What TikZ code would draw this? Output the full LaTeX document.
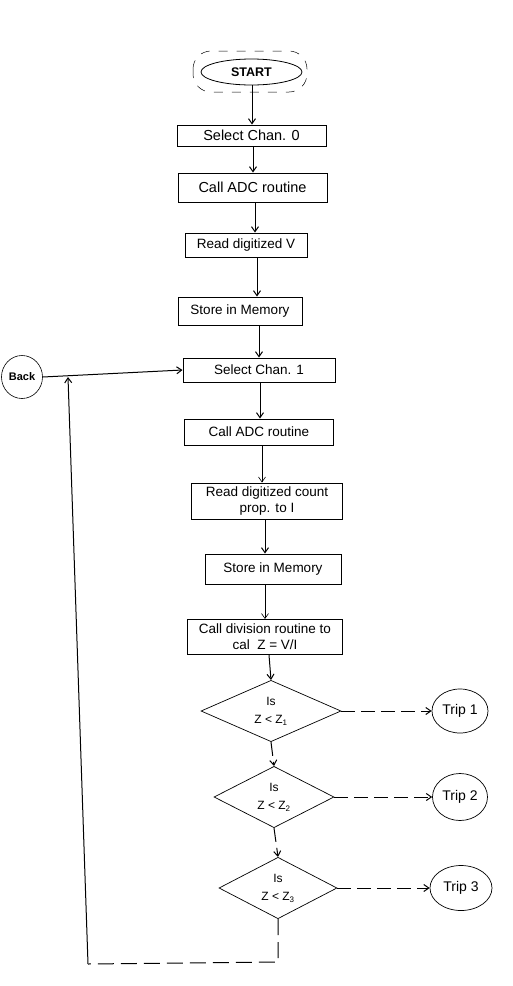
\documentclass[tikz,border=0pt]{standalone}
\usepackage{fontspec}
\setmainfont{Liberation Sans}
\usetikzlibrary{shapes.geometric,arrows.meta}
\begin{document}
\begin{tikzpicture}[x=1pt,y=-1pt,
  box/.style={draw,line width=1pt,inner sep=0pt,align=center,font=\fontsize{13.5}{16}\selectfont},
  dec/.style={draw,diamond,line width=0.7pt,inner sep=0pt,align=center,font=\fontsize{12}{18}\selectfont},
  trip/.style={draw,ellipse,line width=0.7pt,inner sep=0pt,font=\fontsize{14}{16}\selectfont},
  arr/.style={line width=1pt,-{Straight Barb[length=5pt,width=7pt]}},
  darr/.style={arr,dash pattern=on 14pt off 6pt},
  dline/.style={line width=1pt,dash pattern=on 16pt off 7pt}]
\useasboundingbox (0,0) rectangle (512,986);
\fill[white] (0,0) rectangle (512,986);

% START
\draw[line width=0.5pt,dash pattern=on 9pt off 9pt,rounded corners=18pt] (193,51) rectangle (307,92);
\node[draw,ellipse,line width=0.8pt,minimum width=101pt,minimum height=26pt,inner sep=0pt,font=\fontsize{12.5}{14}\selectfont\bfseries] (start) at (251.5,72) {START};

% boxes
\node[box,minimum width=149pt,minimum height=21pt,font=\fontsize{14.5}{16}\selectfont] (sel0) at (251.5,135.5) {Select Chan. 0};
\node[box,minimum width=149pt,minimum height=29pt,font=\fontsize{14.5}{16}\selectfont] (adc0) at (252.5,187.5) {Call ADC routine};
\node[box,minimum width=122pt,minimum height=24pt] (readv) at (246,245) {Read digitized V};
\node[box,minimum width=124pt,minimum height=28pt] (mem0) at (240,311) {Store in Memory};
\node[box,minimum width=152pt,minimum height=24pt] (sel1) at (259,370) {Select Chan. 1};
\node[box,minimum width=149pt,minimum height=26pt] (adc1) at (259,432) {Call ADC routine};
\node[box,minimum width=151pt,minimum height=36pt] (readc) at (267,501) {Read digitized count\\prop. to I};
\node[box,minimum width=136pt,minimum height=30pt] (mem1) at (273,569) {Store in Memory};
\node[box,minimum width=155pt,minimum height=35pt] (div) at (265,637) {Call division routine to\\cal\ \ Z = V/I};

% decisions
\node[dec,minimum width=140pt,minimum height=57pt] (d1) at (271,711) {Is\\Z {<} Z\textsubscript{1}};
\node[dec,minimum width=120pt,minimum height=55pt] (d2) at (274,797) {Is\\Z {<} Z\textsubscript{2}};
\node[dec,minimum width=118pt,minimum height=55pt] (d3) at (278,888) {Is\\Z {<} Z\textsubscript{3}};

% trips
\node[trip,minimum width=56pt,minimum height=44pt] (t1) at (460,711) {Trip 1};
\node[trip,minimum width=55pt,minimum height=47pt] (t2) at (460,797) {Trip 2};
\node[trip,minimum width=62pt,minimum height=45pt] (t3) at (461,888) {Trip 3};

% back
\node[draw,ellipse,line width=0.6pt,minimum width=41pt,minimum height=43pt,inner sep=0pt,font=\fontsize{11}{12}\selectfont\bfseries] (back) at (22,377) {Back};

% arrow x positions
\coordinate (x1) at (252,0);
\coordinate (x2) at (253,0);
\coordinate (x3) at (255,0);
\coordinate (x4) at (257,0);
\coordinate (x5) at (259,0);
\coordinate (x6) at (260,0);
\coordinate (x7) at (262,0);
\coordinate (x8) at (265,0);
\coordinate (x9) at (269,0);

% main flow
\draw[arr] (start.south -| x1) -- (sel0.north -| x1);
\draw[arr] (sel0.south -| x2) -- (adc0.north -| x2);
\draw[arr] (adc0.south -| x3) -- (readv.north -| x3);
\draw[arr] (readv.south -| x4) -- (mem0.north -| x4);
\draw[arr] (mem0.south -| x5) -- (sel1.north -| x5);
\draw[arr] (sel1.south -| x6) -- (adc1.north -| x6);
\draw[arr,line width=0.6pt] (adc1.south -| x7) -- (readc.north -| x7);
\draw[arr] (readc.south -| x8) -- (mem1.north -| x8);
\draw[arr,line width=0.6pt] (mem1.south -| x8) -- (div.north -| x8);
\draw[arr] (div.south -| x9) -- (d1.north);
\draw[darr] (d1.south) -- (d2.north);
\draw[darr] (d2.south) -- (d3.north);

% to trips
\draw[darr] (d1.east) -- (t1.west);
\draw[darr] (d2.east) -- (t2.west);
\draw[darr] (d3.east) -- (t3.west);

% back loop
\coordinate (j) at (68,377);
\coordinate (c1) at (d3.south |- 0,962);
\coordinate (c2) at (88,964);
\draw[arr] (back.east) -- (sel1.west);
\draw[dline] (d3.south) -- (c1) -- (c2);
\draw[arr] (c2) -- (j);
\end{tikzpicture}
\end{document}
